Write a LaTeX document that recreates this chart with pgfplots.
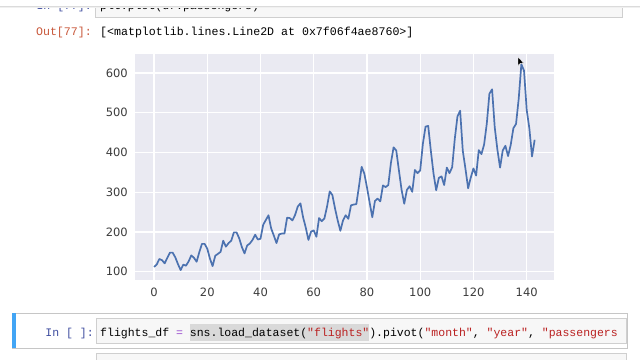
\documentclass[border=0pt]{standalone}
\usepackage{fontspec}
\setmainfont{DejaVu Sans}
\newfontfamily\codefont{Liberation Mono}
\usepackage{pgfplots}
\pgfplotsset{compat=1.18}
\definecolor{bgax}{HTML}{EAEAF2}
\definecolor{sblue}{HTML}{4C72B0}
\definecolor{tickc}{HTML}{3C3C3C}
\definecolor{cellbg}{HTML}{F7F7F7}
\definecolor{cellbd}{HTML}{CFCFCF}
\definecolor{inprompt}{HTML}{3F4D9F}
\definecolor{outprompt}{HTML}{C8573A}
\definecolor{strc}{HTML}{BA2121}
\definecolor{opc}{HTML}{9B4FCF}
\definecolor{selc}{HTML}{D9D9D9}
\definecolor{bluebar}{HTML}{42A5F5}
\definecolor{cellborder}{HTML}{C6C6C6}
\setlength{\fboxsep}{0pt}
\newcommand\selstrut{\rule[-5bp]{0pt}{17bp}}
\newcommand\cf{\codefont\fontsize{11.5bp}{13bp}\selectfont}
\begin{document}
\begin{tikzpicture}
% top (cut) input cell
\fill[cellbg, draw=cellbd, line width=0.6bp] (95bp,343bp) rectangle (622bp,362bp);
\node[anchor=base east, inner sep=0pt, font=\cf, text=inprompt] at (92bp,350bp) {In [77]:};
\node[anchor=base west, inner sep=0pt, font=\cf, text=black] at (100bp,350bp) {plt.plot(df.passengers)};
\fill[white] (0bp,353.5bp) rectangle (640bp,361bp);
\draw[black!14, line width=0.8bp] (0bp,353.6bp) -- (640bp,353.6bp);
\draw[black!6, line width=0.8bp] (0bp,352.8bp) -- (640bp,352.8bp);
% output line
\node[anchor=base east, inner sep=0pt, font=\codefont\fontsize{11.6bp}{13bp}\selectfont, text=outprompt] at (92bp,324bp) {Out[77]:};
\node[anchor=base west, inner sep=0pt, font=\codefont\fontsize{11.6bp}{13bp}\selectfont, text=black] at (100bp,324bp) {[<matplotlib.lines.Line2D at 0x7f06f4ae8760>]};
% bottom cell
\draw[cellborder, line width=0.6bp] (12bp,12bp) rectangle (627bp,47bp);
\fill[bluebar] (12bp,12bp) rectangle (16bp,47bp);
\fill[cellbg, draw=cellbd, line width=0.6bp] (96bp,17bp) rectangle (626bp,42bp);
\node[anchor=base east, inner sep=0pt, font=\cf, text=inprompt] at (94bp,24bp) {In [ ]:};
\node[anchor=base west, inner sep=0pt, font=\cf, text=black] at (100bp,24bp) {flights\_df {\color{opc}=} \colorbox{selc}{\selstrut sns.load\_dataset({\color{strc}"flights"}}).pivot({\color{strc}"month"}, {\color{strc}"year"}, {\color{strc}"passengers}};
\fill[cellbg, draw=cellbd, line width=0.6bp] (96bp,7bp) rectangle (626bp,-3bp);
% chart
\begin{axis}[
 at={(135bp,79.6bp)}, anchor=south west, scale only axis,
 width=418.7bp, height=226.4bp,
 xmin=-7.15, xmax=150.15, ymin=78.1, ymax=647.9,
 axis background/.style={fill=bgax},
 axis line style={draw=none},
 major tick length=0pt,
 xtick={0,20,40,60,80,100,120,140}, ytick={100,200,300,400,500,600},
 grid=major, major grid style={white, line width=1.1bp},
 tick label style={font=\fontsize{11.5bp}{13bp}\selectfont, text=tickc},
 /pgf/number format/assume math mode=true,
 xticklabel style={anchor=north, inner sep=0pt, yshift=-7bp},
 yticklabel style={anchor=east, inner sep=0pt, xshift=-7bp},
]
\addplot[sblue, line width=1.7bp, line join=round] coordinates {
(0,112)(1,118)(2,132)(3,129)(4,121)(5,135)(6,148)(7,148)(8,136)(9,119)(10,104)(11,118)
(12,115)(13,126)(14,141)(15,135)(16,125)(17,149)(18,170)(19,170)(20,158)(21,133)(22,114)(23,140)
(24,145)(25,150)(26,178)(27,163)(28,172)(29,178)(30,199)(31,199)(32,184)(33,162)(34,146)(35,166)
(36,171)(37,180)(38,193)(39,181)(40,183)(41,218)(42,230)(43,242)(44,209)(45,191)(46,172)(47,194)
(48,196)(49,196)(50,236)(51,235)(52,229)(53,243)(54,264)(55,272)(56,237)(57,211)(58,180)(59,201)
(60,204)(61,188)(62,235)(63,227)(64,234)(65,264)(66,302)(67,293)(68,259)(69,229)(70,203)(71,229)
(72,242)(73,233)(74,267)(75,269)(76,270)(77,315)(78,364)(79,347)(80,312)(81,274)(82,237)(83,278)
(84,284)(85,277)(86,317)(87,313)(88,318)(89,374)(90,413)(91,405)(92,355)(93,306)(94,271)(95,306)
(96,315)(97,301)(98,356)(99,348)(100,355)(101,422)(102,465)(103,467)(104,404)(105,347)(106,305)(107,336)
(108,340)(109,318)(110,362)(111,348)(112,363)(113,435)(114,491)(115,505)(116,404)(117,359)(118,310)(119,337)
(120,360)(121,342)(122,406)(123,396)(124,420)(125,472)(126,548)(127,559)(128,463)(129,407)(130,362)(131,405)
(132,417)(133,391)(134,419)(135,461)(136,472)(137,535)(138,622)(139,606)(140,508)(141,461)(142,390)(143,432)
};
\end{axis}
% mouse cursor
\fill[black, draw=white, line width=0.3bp] (518bp,303bp) -- (518bp,294.5bp) -- (520.2bp,296.6bp) -- (523.5bp,297bp) -- cycle;
\pgfresetboundingbox
\path[use as bounding box] (0bp,0bp) rectangle (640bp,360bp);
\end{tikzpicture}
\end{document}
